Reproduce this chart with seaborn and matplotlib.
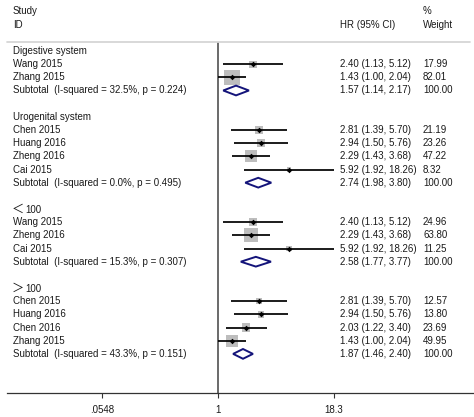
import numpy as np
import pandas as pd
import matplotlib
matplotlib.use("Agg")
import matplotlib.pyplot as plt
from matplotlib.patches import Polygon
import seaborn as sns

sns.set_theme(style="white")
plt.rcParams['font.family'] = ['Liberation Sans', 'Noto Sans CJK SC', 'DejaVu Sans']

# ---------------- data ----------------
row_labels = [
    "Digestive system", "Wang 2015", "Zhang 2015",
    "Subtotal  (I-squared = 32.5%, p = 0.224)", "",
    "Urogenital system", "Chen 2015", "Huang 2016", "Zheng 2016", "Cai 2015",
    "Subtotal  (I-squared = 0.0%, p = 0.495)", "",
    "\uff1c100", "Wang 2015", "Zheng 2016", "Cai 2015",
    "Subtotal  (I-squared = 15.3%, p = 0.307)", "",
    "\uff1e100", "Chen 2015", "Huang 2016", "Chen 2016", "Zhang 2015",
    "Subtotal  (I-squared = 43.3%, p = 0.151)",
]
row_type = [
    "group", "study", "study", "subtotal", "blank",
    "group", "study", "study", "study", "study", "subtotal", "blank",
    "group", "study", "study", "study", "subtotal", "blank",
    "group", "study", "study", "study", "study", "subtotal",
]
nan = np.nan
hr = [nan, 2.40, 1.43, 1.57, nan,
      nan, 2.81, 2.94, 2.29, 5.92, 2.74, nan,
      nan, 2.40, 2.29, 5.92, 2.58, nan,
      nan, 2.81, 2.94, 2.03, 1.43, 1.87]
ci_low = [nan, 1.13, 1.00, 1.14, nan,
          nan, 1.39, 1.50, 1.43, 1.92, 1.98, nan,
          nan, 1.13, 1.43, 1.92, 1.77, nan,
          nan, 1.39, 1.50, 1.22, 1.00, 1.46]
ci_high = [nan, 5.12, 2.04, 2.17, nan,
           nan, 5.70, 5.76, 3.68, 18.26, 3.80, nan,
           nan, 5.12, 3.68, 18.26, 3.77, nan,
           nan, 5.70, 5.76, 3.40, 2.04, 2.40]
weight = [nan, 17.99, 82.01, 100.00, nan,
          nan, 21.19, 23.26, 47.22, 8.32, 100.00, nan,
          nan, 24.96, 63.80, 11.25, 100.00, nan,
          nan, 12.57, 13.80, 23.69, 49.95, 100.00]
tick_values = [0.0548, 1, 18.3]
tick_labels = [".0548", "1", "18.3"]

df = pd.DataFrame({"label": row_labels, "type": row_type, "hr": hr,
                   "lo": ci_low, "hi": ci_high, "w": weight})
df["row"] = np.arange(len(df))

# ---------------- layout ----------------
W, H = 474, 417
fig = plt.figure(figsize=(W / 100, H / 100), dpi=100)
fig.patch.set_facecolor("white")
ax = fig.add_axes([0, 24 / H, 1, 393 / H])
ax.set_facecolor("white")
ax.set_xscale("log")
px_per_ln = 39.92
x0 = 218.0
xl = np.exp(-x0 / px_per_ln)
xr = np.exp((W - x0) / px_per_ln)
ax.set_xlim(xl, xr)
ax.set_ylim(25.97, -3.872)

txt_col = "#1a1a1a"
fs = 7.0

studies = df[df["type"] == "study"]
subs = df[df["type"] == "subtotal"]

# CI lines
ax.hlines(studies["row"], studies["lo"], studies["hi"], color="black", lw=1.25, zorder=3)

# weight squares (area proportional to weight)
k = (1.72 * 0.72) ** 2  # pt^2 per % weight
sns.scatterplot(data=studies, x="hr", y="row", size="w", sizes=(0, k * 100),
                size_norm=(0, 100), marker="s", color="#bdbdbd", linewidth=0,
                legend=False, ax=ax, zorder=2)
# centre points
sns.scatterplot(data=studies, x="hr", y="row", marker="D", color="black",
                s=8, linewidth=0, legend=False, ax=ax, zorder=4)

# subtotal diamonds
for _, r in subs.iterrows():
    poly = Polygon([(r["lo"], r["row"]), (r["hr"], r["row"] - 0.37),
                    (r["hi"], r["row"]), (r["hr"], r["row"] + 0.37)],
                   closed=True, facecolor="white", edgecolor="#14147a",
                   lw=1.4, zorder=3)
    ax.add_patch(poly)

# reference line at 1
top_row = -0.683
ax.vlines(1, top_row, 25.97, color="#505050", lw=1.2, zorder=1)
# header separator
ax.axhline(top_row, xmin=7 / W, xmax=470 / W, color="#d6d6d6", lw=1.3)

# text columns
tx = ax.get_yaxis_transform()
ax.text(13 / W, -3, "Study", transform=tx, fontsize=fs, color=txt_col, va="center")
ax.text(13 / W, -2, "ID", transform=tx, fontsize=fs, color=txt_col, va="center")
ax.text(340 / W, -2, "HR (95% CI)", transform=tx, fontsize=fs, color=txt_col, va="center")
ax.text(423 / W, -3, "%", transform=tx, fontsize=fs, color=txt_col, va="center")
ax.text(423 / W, -2, "Weight", transform=tx, fontsize=fs, color=txt_col, va="center")

for _, r in df.iterrows():
    if r["type"] == "blank":
        continue
    lab = r["label"]
    if r["type"] == "group" and lab.startswith(("\uff1c", "\uff1e")):
        ax.text(12 / W, r["row"], lab[0], transform=tx, fontsize=fs + 1.8,
                color=txt_col, va="center", family=["Noto Sans CJK SC", "DejaVu Sans"])
        ax.text(25 / W, r["row"] + 0.08, lab[1:], transform=tx, fontsize=fs,
                color=txt_col, va="center")
    else:
        ax.text(13 / W, r["row"], lab, transform=tx, fontsize=fs, color=txt_col, va="center")
    if r["type"] in ("study", "subtotal"):
        ax.text(340 / W, r["row"], f"{r['hr']:.2f} ({r['lo']:.2f}, {r['hi']:.2f})",
                transform=tx, fontsize=fs, color=txt_col, va="center")
        ax.text(423 / W, r["row"], f"{r['w']:.2f}", transform=tx, fontsize=fs,
                color=txt_col, va="center")

# axis styling
for s in ("left", "top", "right"):
    ax.spines[s].set_visible(False)
ax.spines["bottom"].set_color("#333333")
ax.spines["bottom"].set_linewidth(0.9)
ax.spines["bottom"].set_bounds(np.exp((7 - x0) / px_per_ln), xr)
ax.set_yticks([])
ax.set_xticks(tick_values)
ax.set_xticklabels(tick_labels)
ax.xaxis.set_minor_locator(matplotlib.ticker.NullLocator())
ax.tick_params(axis="x", which="major", bottom=True, direction="out", length=3.5,
               width=0.8, color="#333333", labelsize=fs, labelcolor=txt_col, pad=5)
ax.set_xlabel("")
ax.set_ylabel("")

fig.savefig("out.png", dpi=100, facecolor="white")
